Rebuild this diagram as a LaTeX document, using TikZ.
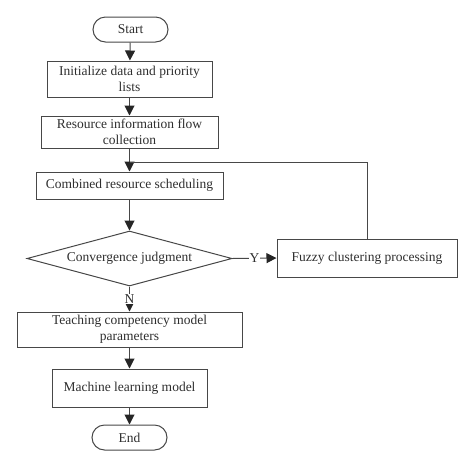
\documentclass[tikz,border=0pt]{standalone}
\usepackage{fontspec}
\setmainfont{Liberation Serif}
\usetikzlibrary{shapes.geometric,arrows.meta}
\definecolor{ln}{gray}{0.28}
\definecolor{tx}{gray}{0.18}
\begin{document}
\begin{tikzpicture}[x=1pt,y=-1pt,
  every node/.style={text=tx,font=\fontsize{13.5}{16}\selectfont},
  box/.style={draw=ln,line width=1pt,rectangle,inner sep=0pt,align=center},
  term/.style={draw=ln,line width=1pt,rectangle,rounded corners=12.5pt,inner sep=0pt,minimum width=75pt,minimum height=25pt},
  dec/.style={draw=ln,line width=1pt,diamond,inner sep=0pt,aspect=3.73,minimum width=205pt,minimum height=55pt},
  arr/.style={draw=ln,line width=1pt,-{Triangle[length=10pt,width=10pt,color=black!85]}},
  ln/.style={draw=ln,line width=1pt}]
\useasboundingbox (0,0) rectangle (474,467);
\node[term] (s) at (130.5,29.5) {Start};
\node[box,minimum width=165pt,minimum height=36pt] (i) at (129.5,79) {Initialize data and priority\\lists};
\node[box,minimum width=177pt,minimum height=32pt] (r) at (129.5,132) {Resource information flow\\collection};
\node[box,minimum width=187pt,minimum height=27pt] (c) at (129.5,185.5) {Combined resource scheduling};
\node[dec] (d) at (129.5,258.5) {Convergence judgment};
\node[box,minimum width=180pt,minimum height=38pt] (f) at (367,258) {Fuzzy clustering processing};
\node[box,minimum width=225pt,minimum height=35pt] (t) at (129.5,329.5) {Teaching competency model\\parameters};
\node[box,minimum width=155pt,minimum height=38pt] (m) at (129.5,388) {Machine learning model};
\node[term] (e) at (129.5,437.5) {End};
\coordinate (j) at (129.5,162);
\draw[arr] (s) -- (i);
\draw[arr] (i) -- (r);
\draw[arr] (r) -- (c);
\draw[ln] (f.north) |- (j);
\draw[arr] (c) -- (d);
\draw[arr] (d.east) -- node[fill=white,inner sep=1pt]{Y} (f.west);
\draw[arr] (d.south) -- node[fill=white,inner sep=1pt]{N} (t.north);
\draw[arr] (t) -- (m);
\draw[arr] (m) -- (e);
\end{tikzpicture}
\end{document}
